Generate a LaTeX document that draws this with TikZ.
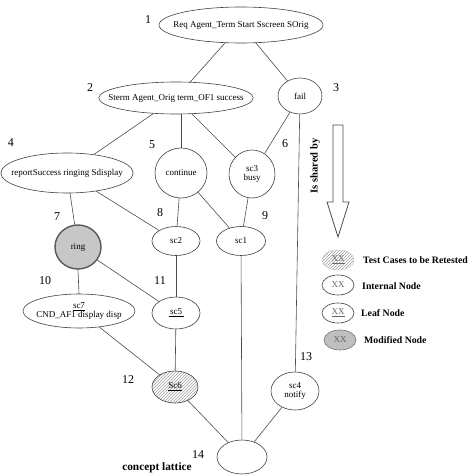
\documentclass[tikz,border=0pt]{standalone}
\usepackage{fontspec}
\setmainfont{Liberation Serif}
\usetikzlibrary{shapes.geometric,patterns}
\begin{document}
\begin{tikzpicture}[x=1pt,y=-1pt,
  el/.style={draw=black!75,ellipse,inner sep=0pt,line width=0.6pt,font=\fontsize{9}{9.5}\selectfont,align=center},
  num/.style={font=\fontsize{12}{12}\selectfont},
  edge/.style={draw=black!70,line width=0.6pt},
  hatch/.style={pattern=north east lines,pattern color=black!38},
  modified/.style={fill=black!22,draw=black!65,line width=1.4pt},
  legtext/.style={font=\bfseries\fontsize{9.8}{10}\selectfont,anchor=west,inner sep=0pt},
  legel/.style={el,minimum width=32,minimum height=20,text=black!60}]
\useasboundingbox (0,0) rectangle (474,476);
% nodes
\node[el,inner xsep=-13pt,minimum width=164,minimum height=36] (n1) at (241,25) {Req Agent\_Term Start Sscreen SOrig};
\node[el,inner xsep=-13pt,minimum width=152,minimum height=32] (n2) at (176,98) {Sterm Agent\_Orig term\_OF1 success};
\node[el,minimum width=44,minimum height=36] (n3) at (300,96) {fail};
\node[el,inner xsep=-9pt,minimum width=132,minimum height=40] (n4) at (67,173) {reportSuccess ringing Sdisplay};
\node[el,inner xsep=-3pt,minimum width=52,minimum height=50] (n5) at (181,173) {continue};
\node[el,minimum width=46,minimum height=48] (n6) at (252,174) {sc3\\busy};
\node[el,modified,minimum width=46,minimum height=44] (n7) at (78,247) {ring};
\node[el,minimum width=48,minimum height=29] (n8) at (176,241) {sc2};
\node[el,minimum width=49,minimum height=29] (n9) at (241,241) {sc1};
\node[el,inner xsep=-4pt,inner ysep=-3pt,minimum width=112,minimum height=34] (n10) at (79,311) {\underline{sc7}\\CND\_AF1 display disp};
\node[el,minimum width=48,minimum height=32] (n11) at (176,313) {\underline{\,sc5\,}};
\node[el,hatch,minimum width=46,minimum height=32] (n12) at (175,387) {\underline{Sc6}};
\node[el,minimum width=48,minimum height=38] (n13) at (295,391) {sc4\\notify};
\node[el,minimum width=50,minimum height=34] (n14) at (242,457) {};
% numbers
\node[num] (l1) at (148,20) {1};
\node[num] (l2) at (90,88) {2};
\node[num] (l3) at (336,88) {3};
\node[num] (l4) at (11,143) {4};
\node[num] (l5) at (152,145) {5};
\node[num] (l6) at (285,144) {6};
\node[num] (l7) at (57,217) {7};
\node[num] (l8) at (160,213) {8};
\node[num] (l9) at (265,216) {9};
\node[num] (l10) at (45,281) {10};
\node[num] (l11) at (160,281) {11};
\node[num] (l12) at (128,380) {12};
\node[num] (l13) at (306,357) {13};
\node[num] (l14) at (198,455) {14};
\node[font=\bfseries\fontsize{11.3}{12}\selectfont] (cl) at (157,468) {concept lattice};
% edges
\draw[edge] (n1) -- (n2);
\draw[edge] (n1) -- (n3);
\draw[edge] (n2) -- (n4);
\draw[edge] (n2.south -| n5) -- (n5);
\draw[edge] (n2) -- (n6);
\draw[edge] (n3) -- (n6);
\draw[edge] (n3) -- (n13);
\draw[edge] (n4) -- (n7);
\draw[edge] (n4) -- (n8);
\draw[edge] (n5) -- (n8);
\draw[edge] (n5) -- (n9);
\draw[edge] (n6) -- (n9);
\draw[edge] (n7.south) -- (n10.north);
\draw[edge] (n7) -- (n11);
\draw[edge] (n8) -- (n11);
\draw[edge] (n9) -- (n14);
\draw[edge] (n10) -- (n12);
\draw[edge] (n11) -- (n12);
\draw[edge] (n12) -- (n14);
\draw[edge] (n13) -- (n14);
% shared-by arrow
\draw[draw=black!70,line width=0.8pt,fill=white] (333,125) -- (343,125) -- (343,202) -- (349,202) -- (338,237) -- (327,202) -- (333,202) -- cycle;
\node[rotate=90,font=\bfseries\fontsize{10.5}{11}\selectfont] (sh) at (315,166) {Is shared by};
% legend
\node[legel,draw=black!20,hatch] (g1) at (338,260) {\underline{XX}};
\node[legel] (g2) at (338,285) {XX};
\node[legel] (g3) at (338,313) {\underline{XX}};
\node[legel,fill=black!25,draw=black!55] (g4) at (340,340) {XX};
\node[legtext] (t1) at (363,260) {Test Cases to be Retested};
\node[legtext] (t2) at (362,286) {Internal Node};
\node[legtext] (t3) at (361,313) {Leaf Node};
\node[legtext] (t4) at (364,340) {Modified Node};
\end{tikzpicture}
\end{document}
